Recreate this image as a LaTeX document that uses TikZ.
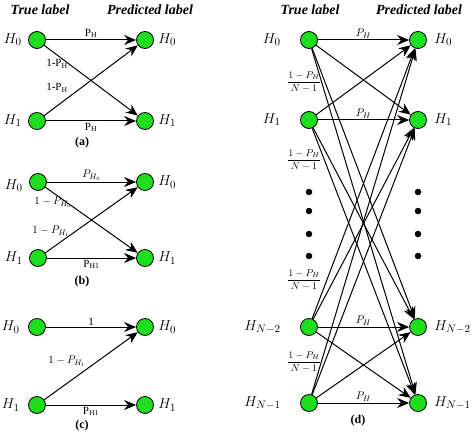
\documentclass[tikz,border=0pt]{standalone}
\usepackage{amsmath}
\usepackage{fontspec}
\setmainfont{Liberation Serif}
\usetikzlibrary{arrows.meta,positioning}
\definecolor{nodegreen}{RGB}{30,222,30}

\begin{document}
\begin{tikzpicture}[x=1pt,y=-1pt,
	every node/.style={font=\fontsize{15}{17}\selectfont},
	hnode/.style={circle,draw=black,line width=0.8pt,fill=nodegreen,minimum size=17pt,inner sep=0pt},
	arc/.style={-{Stealth[length=12pt,width=10pt]},line width=1pt},
	prob/.style={font=\fontsize{11}{13}\selectfont,inner sep=1.5pt},
	frac/.style={font=\fontsize{10}{12}\selectfont,inner sep=1pt},
	head/.style={font=\fontsize{14}{16}\selectfont\bfseries\itshape},
	sublabel/.style={font=\fontsize{12}{14}\selectfont\bfseries},
	dot/.style={circle,fill=black,minimum size=6.5pt,inner sep=0pt}]
	\useasboundingbox (0,0) rectangle (474,433);

	% (a)
	\node[head] (aTh) at (40,10) {True label};
	\node[head] (aPh) at (150,10) {Predicted label};
	\node[hnode] (aT0) at (37,40) {};
	\node[hnode] (aT1) at (37,121) {};
	\node[hnode] (aP0) at (145,40) {};
	\node[hnode] (aP1) at (145,121) {};
	\node[left=3pt of aT0] (aT0l) {$H_0$};
	\node[left=3pt of aT1] (aT1l) {$H_1$};
	\node[right=1pt of aP0] (aP0l) {$H_0$};
	\node[right=1pt of aP1] (aP1l) {$H_1$};
	\draw[arc] (aT0) -- (aP0) node[midway,above,prob] {P\textsubscript{H}};
	\draw[arc] (aT0) -- (aP1);
	\draw[arc] (aT1) -- (aP0);
	\draw[arc] (aT1) -- (aP1) node[midway,below,prob] {P\textsubscript{H}};
	\node[prob] (aL01) at (57,64) {1-P\textsubscript{H}};
	\node[prob] (aL10) at (57,88) {1-P\textsubscript{H}};
	\node[sublabel] (acap) at (82,143) {(a)};

	% (b)
	\node[hnode] (bT0) at (38,182) {};
	\node[hnode] (bT1) at (38,258) {};
	\node[hnode] (bP0) at (145,182) {};
	\node[hnode] (bP1) at (145,258) {};
	\node[left=3pt of bT0,yshift=-4pt] (bT0l) {$H_0$};
	\node[left=3pt of bT1] (bT1l) {$H_1$};
	\node[right=1pt of bP0] (bP0l) {$H_0$};
	\node[right=1pt of bP1] (bP1l) {$H_1$};
	\draw[arc] (bT0) -- (bP0) node[midway,above,prob] {$P_{H_0}$};
	\draw[arc] (bT0) -- (bP1);
	\draw[arc] (bT1) -- (bP0);
	\draw[arc] (bT1) -- (bP1) node[midway,below,prob] {P\textsubscript{H1}};
	\node[prob] (bL01) at (53,202) {$1-P_{H_0}$};
	\node[prob] (bL10) at (51,231) {$1-P_{H_1}$};
	\node[sublabel] (bcap) at (82,282) {(b)};

	% (c)
	\node[hnode] (cT0) at (37,327) {};
	\node[hnode] (cT1) at (37,405) {};
	\node[hnode] (cP0) at (145,327) {};
	\node[hnode] (cP1) at (145,405) {};
	\node[left=5pt of cT0] (cT0l) {$H_0$};
	\node[left=5pt of cT1] (cT1l) {$H_1$};
	\node[right=1pt of cP0] (cP0l) {$H_0$};
	\node[right=1pt of cP1] (cP1l) {$H_1$};
	\draw[arc] (cT0) -- (cP0) node[midway,above,prob] {1};
	\draw[arc] (cT1) -- (cP0);
	\draw[arc] (cT1) -- (cP1) node[midway,below,prob] {P\textsubscript{H1}};
	\node[prob] (cL10) at (67,361) {$1-P_{H_1}$};
	\node[sublabel] (ccap) at (82,426) {(c)};

	% (d)
	\node[head] (dTh) at (310,10) {True label};
	\node[head] (dPh) at (419,10) {Predicted label};
	\foreach \i/\y/\lab in {0/40/H_0,1/120/H_1,2/327/H_{N-2},3/403/H_{N-1}} {
		\node[hnode] (dT\i) at (309,\y) {};
		\node[hnode] (dP\i) at (418,\y) {};
		\node[left=16pt of dT\i] (dT\i l) {$\lab$};
		\node[right=4pt of dP\i] (dP\i l) {$\lab$};
	}
	\foreach \i in {0,...,3}
		\foreach \j in {0,...,3}
			\draw[arc] (dT\i) -- (dP\j);
	\foreach \i in {0,...,3}
		\path (dT\i) -- (dP\i) node[midway,above,prob] {$P_H$};
	\foreach \y [count=\k] in {192,211,234,256} {
		\node[dot] (dTd\k) at (309,\y) {};
		\node[dot] (dPd\k) at (418,\y) {};
	}
	\foreach \y [count=\k] in {82,160,280,362}
		\node[frac] (dF\k) at (304,\y) {$\dfrac{1-P_H}{N-1}$};
	\node[sublabel] (dcap) at (358,421) {(d)};
\end{tikzpicture}
\end{document}
